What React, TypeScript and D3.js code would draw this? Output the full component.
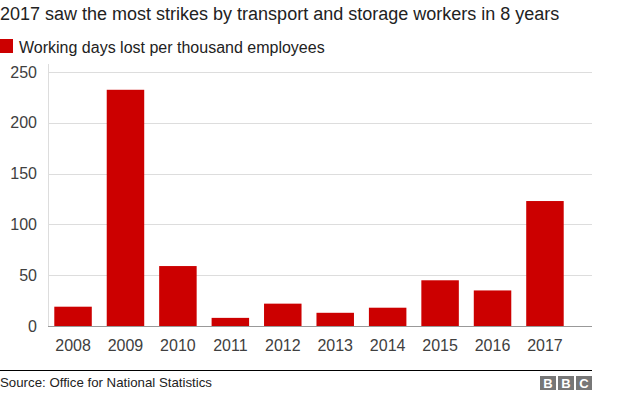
import { useMemo } from 'react'
import * as d3 from 'd3'

const years = ['2008', '2009', '2010', '2011', '2012', '2013', '2014', '2015', '2016', '2017']
const daysLost = [19, 232.5, 59, 8, 22, 13, 18, 45, 35, 123]
const yTicks = [0, 50, 100, 150, 200, 250]

const WIDTH = 624
const HEIGHT = 394
const FONT = '"Liberation Sans", Arial, Helvetica, sans-serif'
const BAR_COLOR = '#cc0000'
const GRID_COLOR = '#dddddd'
const TEXT_COLOR = '#404040'

const PLOT_LEFT = 48
const PLOT_RIGHT = 592
const PLOT_TOP = 72
const PLOT_BOTTOM = 326

export default function App() {
  const xScale = useMemo(
    () =>
      d3
        .scaleBand<string>()
        .domain(years)
        .range([PLOT_LEFT, 570])
        .paddingInner(0.285)
        .paddingOuter(0.12),
    []
  )

  const yScale = useMemo(
    () => d3.scaleLinear().domain([0, 250]).range([PLOT_BOTTOM, PLOT_TOP]),
    []
  )

  return (
    <div style={{ position: 'absolute', left: 0, top: 0, width: WIDTH, height: HEIGHT, background: '#fff' }}>
      <svg width={WIDTH} height={HEIGHT} style={{ display: 'block', fontFamily: FONT }}>
        <text x={0} y={20} fontSize={18} fill="#222">
          2017 saw the most strikes by transport and storage workers in 8 years
        </text>

        {/* legend */}
        <rect x={0} y={39} width={13} height={14} fill={BAR_COLOR} />
        <text x={19} y={52.5} fontSize={16} fill="#222">
          Working days lost per thousand employees
        </text>

        {/* grid */}
        {yTicks.map((t) => (
          <g key={t}>
            {t > 0 && (
              <line
                x1={PLOT_LEFT}
                x2={PLOT_RIGHT}
                y1={Math.round(yScale(t)) + 0.5}
                y2={Math.round(yScale(t)) + 0.5}
                stroke={GRID_COLOR}
              />
            )}
            <text
              x={37}
              y={yScale(t)}
              dy="0.35em"
              textAnchor="end"
              fontSize={16}
              fill={TEXT_COLOR}
            >
              {t}
            </text>
          </g>
        ))}
        <line x1={PLOT_LEFT + 0.5} x2={PLOT_LEFT + 0.5} y1={PLOT_TOP - 8} y2={PLOT_BOTTOM} stroke={GRID_COLOR} />

        {/* bars */}
        {years.map((y, i) => (
          <rect
            key={y}
            x={xScale(y)}
            y={yScale(daysLost[i])}
            width={xScale.bandwidth()}
            height={PLOT_BOTTOM - yScale(daysLost[i])}
            fill={BAR_COLOR}
          />
        ))}

        <line x1={PLOT_LEFT} x2={PLOT_RIGHT} y1={PLOT_BOTTOM + 0.5} y2={PLOT_BOTTOM + 0.5} stroke="#999" />

        {years.map((y) => (
          <text
            key={y}
            x={(xScale(y) ?? 0) + xScale.bandwidth() / 2}
            y={351}
            textAnchor="middle"
            fontSize={16}
            fill={TEXT_COLOR}
          >
            {y}
          </text>
        ))}

        {/* footer */}
        <line x1={0} x2={PLOT_RIGHT} y1={370.5} y2={370.5} stroke="#000" />
        <text x={0} y={387} fontSize={13} fill="#222" textLength={212} lengthAdjust="spacingAndGlyphs">
          Source: Office for National Statistics
        </text>
        {['B', 'B', 'C'].map((l, i) => (
          <g key={i} transform={`translate(${540 + i * 18},376)`}>
            <rect width={16} height={14} fill="#777" />
            <text x={8} y={12} textAnchor="middle" fontSize={13} fontWeight="bold" fill="#fff">
              {l}
            </text>
          </g>
        ))}
      </svg>
    </div>
  )
}
